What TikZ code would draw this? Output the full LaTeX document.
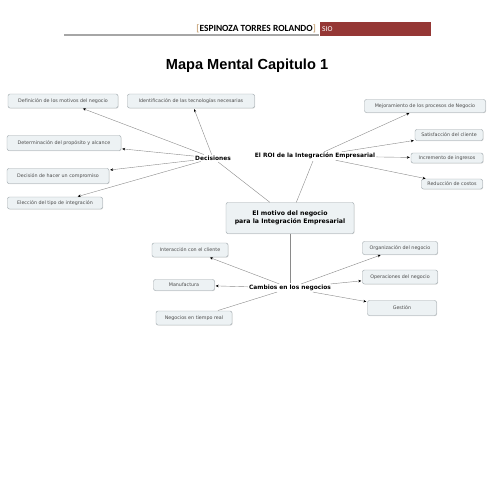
\documentclass[tikz,border=0pt]{standalone}
\usepackage{fontspec}
\setmainfont{DejaVu Sans}
\newfontfamily\hdrfont{Carlito}
\newfontfamily\titlefont{Liberation Sans}
\usetikzlibrary{shadows,arrows.meta}
\definecolor{boxfill}{HTML}{EDF2F4}
\definecolor{boxline}{HTML}{9AA3A8}
\definecolor{linkgray}{HTML}{8A8A8A}
\definecolor{hdrred}{HTML}{953735}
\definecolor{hdrtan}{HTML}{C9A77C}

\begin{document}
\begin{tikzpicture}[x=1pt,y=-1pt,->,>={Stealth[length=3pt,width=2.6pt,color=black]},shorten >=1pt,thin,
    leaf node/.style={draw=boxline,fill=boxfill,rounded corners=2pt,inner sep=1pt,font=\fontsize{4.8}{5.5}\selectfont,text=black!70,drop shadow={shadow xshift=0.6pt,shadow yshift=-0.6pt,opacity=0.25}},
    hub node/.style={inner sep=1pt,font=\fontsize{5.9}{7}\selectfont\bfseries},
    main node/.style={draw=boxline,fill=boxfill,rounded corners=2pt,align=center,font=\fontsize{6.2}{7.8}\selectfont\bfseries,drop shadow={shadow xshift=0.6pt,shadow yshift=-0.6pt,opacity=0.25}}]
            \useasboundingbox (0,0) rectangle (495,495);

            % header
            \draw[-,gray!70,line width=1.4pt] (64,35) -- (320,35);
            \fill[hdrred] (320,22) rectangle (431,36);
            \node[anchor=east,inner sep=0,font=\hdrfont\bfseries\fontsize{9.4}{11}\selectfont] (author) at (316,29) {\textcolor{hdrtan}{[}ESPINOZA TORRES ROLANDO\textcolor{hdrtan}{]}};
            \node[anchor=west,inner sep=0,text=white,font=\hdrfont\fontsize{7.5}{9}\selectfont] (sio) at (322,29) {SIO};
            \node[font=\titlefont\bfseries\fontsize{14.6}{17}\selectfont] (title) at (247,66) {Mapa Mental Capitulo 1};

            \node[main node, minimum width=128, minimum height=31] (motivo) at (290,218) {El motivo del negocio\\para la Integración Empresarial};

            \node[hub node] (dec) at (213,158) {Decisiones};
            \node[hub node] (roi) at (315,156) {El ROI de la Integración Empresarial};
            \node[hub node] (camb) at (290,288) {Cambios en los negocios};

            \node[leaf node, minimum width=110, minimum height=14] (def) at (63,101) {Definición de los motivos del negocio};
            \node[leaf node, minimum width=127, minimum height=14] (ident) at (191,101) {Identificación de las tecnologías necesarias};
            \node[leaf node, minimum width=114, minimum height=15] (prop) at (64,143) {Determinación del propósito y alcance};
            \node[leaf node, minimum width=102, minimum height=15] (comp) at (58,176) {Decisión de hacer un compromiso};
            \node[leaf node, minimum width=95, minimum height=12] (elec) at (55,203) {Elección del tipo de integración};

            \node[leaf node, minimum width=121, minimum height=13] (mejor) at (425,106) {Mejoramiento de los procesos de Negocio};
            \node[leaf node, minimum width=68, minimum height=11] (satis) at (449,135) {Satisfacción del cliente};
            \node[leaf node, minimum width=72, minimum height=10] (incr) at (447,158) {Incremento de ingresos};
            \node[leaf node, minimum width=61, minimum height=10] (reduc) at (452,184) {Reducción de costos};

            \node[leaf node, minimum width=76, minimum height=14] (inter) at (190,250) {Interacción con el cliente};
            \node[leaf node, minimum width=61, minimum height=11] (manuf) at (184,285) {Manufactura};
            \node[leaf node, minimum width=76, minimum height=14] (tiempo) at (194,318) {Negocios en tiempo real};
            \node[leaf node, minimum width=75, minimum height=13] (organ) at (400,248) {Organización del negocio};
            \node[leaf node, minimum width=75, minimum height=14] (oper) at (400,277) {Operaciones del negocio};
            \node[leaf node, minimum width=69, minimum height=15] (gest) at (402,308) {Gestión};

            \path[draw=linkgray,-]
                (motivo) edge (dec)
                (motivo) edge (roi)
                (motivo) edge (camb)
                (camb) edge (tiempo)
                ;
            \path[draw=linkgray]
                (dec) edge (def)
                (dec) edge (ident)
                (dec) edge (prop)
                (dec) edge (comp)
                (dec) edge (elec)
                (roi) edge (mejor)
                (roi) edge (satis)
                (roi) edge (incr)
                (roi) edge (reduc)
                (camb) edge (inter)
                (camb) edge (manuf)
                (camb) edge (organ)
                (camb) edge (oper)
                (camb) edge (gest)
                ;
\end{tikzpicture}
\end{document}
